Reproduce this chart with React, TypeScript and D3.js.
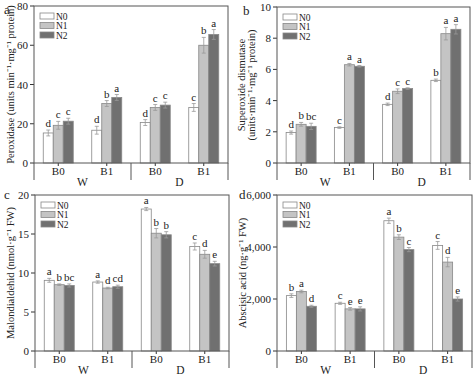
import React from "react";
import * as d3 from "d3";

const groups = ["W-B0", "W-B1", "D-B0", "D-B1"];
const groupLabels = ["B0", "B1", "B0", "B1"];
const waterLabels = ["W", "D"];
const series = ["N0", "N1", "N2"];

// Panel a: Peroxidase
const podN0 = [15.3, 16.7, 20.6, 28.3];
const podN1 = [19.2, 30.3, 28.3, 60.0];
const podN2 = [21.3, 33.4, 29.5, 65.5];
const podErrN0 = [1.5, 2.0, 1.5, 2.0];
const podErrN1 = [2.0, 1.5, 1.5, 4.0];
const podErrN2 = [1.5, 1.5, 1.5, 2.5];
const podLetN0 = ["d", "d", "d", "c"];
const podLetN1 = ["c", "b", "c", "b"];
const podLetN2 = ["c", "a", "c", "a"];

// Panel b: SOD
const sodN0 = [1.95, 2.27, 3.76, 5.3];
const sodN1 = [2.48, 6.3, 4.6, 8.29];
const sodN2 = [2.35, 6.2, 4.77, 8.57];
const sodErrN0 = [0.1, 0.05, 0.08, 0.08];
const sodErrN1 = [0.12, 0.08, 0.15, 0.4];
const sodErrN2 = [0.2, 0.05, 0.05, 0.3];
const sodLetN0 = ["d", "c", "d", "b"];
const sodLetN1 = ["b", "a", "c", "a"];
const sodLetN2 = ["bc", "a", "c", "a"];

// Panel c: MDA
const mdaN0 = [9.06, 8.84, 18.2, 13.4];
const mdaN1 = [8.5, 8.07, 15.1, 12.4];
const mdaN2 = [8.4, 8.24, 14.9, 11.2];
const mdaErrN0 = [0.25, 0.15, 0.2, 0.45];
const mdaErrN1 = [0.1, 0.1, 0.6, 0.5];
const mdaErrN2 = [0.2, 0.2, 0.4, 0.3];
const mdaLetN0 = ["a", "a", "a", "c"];
const mdaLetN1 = ["b", "d", "b", "d"];
const mdaLetN2 = ["bc", "cd", "b", "e"];

// Panel d: ABA
const abaN0 = [2130, 1835, 5010, 4060];
const abaN1 = [2290, 1620, 4380, 3420];
const abaN2 = [1720, 1620, 3900, 2000];
const abaErrN0 = [70, 40, 100, 150];
const abaErrN1 = [50, 50, 90, 180];
const abaErrN2 = [40, 80, 80, 80];
const abaLetN0 = ["b", "c", "a", "c"];
const abaLetN1 = ["a", "e", "b", "d"];
const abaLetN2 = ["d", "e", "c", "e"];

const colors = ["#ffffff", "#c4c4c4", "#707070"];
const FONT = "Liberation Serif, Times New Roman, serif";

type PanelProps = {
  letter: string;
  box: { left: number; right: number; top: number; bottom: number };
  yMax: number;
  ticks: number[];
  fmt: (v: number) => string;
  values: number[][];
  errs: number[][];
  lets: string[][];
  yLabel: string[];
  yLabelX: number;
  letterPos: [number, number];
};

function Panel(p: PanelProps) {
  const { left, right, top, bottom } = p.box;
  const x = d3.scaleBand<string>().domain(groups).range([left, right]).padding(0);
  const y = d3.scaleLinear().domain([0, p.yMax]).range([bottom, top]);
  const inner = d3.scaleBand<string>().domain(series).range([0, 30]).padding(0);
  const cy = (top + bottom) / 2;
  const mid = (left + right) / 2;
  return (
    <g fontFamily={FONT} fill="#222">
      <text x={p.letterPos[0]} y={p.letterPos[1]} fontSize={13}>{p.letter}</text>
      {p.yLabel.map((t, i) => (
        <text
          key={i}
          transform={`translate(${p.yLabelX + i * 10},${cy}) rotate(-90)`}
          textAnchor="middle"
          fontSize={10.5}
        >
          {t}
        </text>
      ))}
      {p.ticks.map((t) => (
        <g key={t}>
          <line x1={left - 4} x2={left} y1={y(t)} y2={y(t)} stroke="#333" />
          <text x={left - 6} y={y(t) + 4} textAnchor="end" fontSize={11}>{p.fmt(t)}</text>
        </g>
      ))}
      {groups.map((g, gi) => {
        const gx = (x(g) as number) + x.bandwidth() / 2 - 15;
        return (
          <g key={g}>
            {series.map((s, si) => {
              const v = p.values[si][gi];
              const e = p.errs[si][gi];
              const bx = gx + (inner(s) as number);
              const bw = inner.bandwidth();
              const cx = bx + bw / 2;
              return (
                <g key={s}>
                  <rect x={bx} y={y(v)} width={bw} height={bottom - y(v)} fill={colors[si]} stroke="#888" strokeWidth={0.8} />
                  <line x1={cx} x2={cx} y1={y(v - e)} y2={y(v + e)} stroke="#999" strokeWidth={0.8} />
                  <line x1={cx - 2} x2={cx + 2} y1={y(v + e)} y2={y(v + e)} stroke="#999" strokeWidth={0.8} />
                  <line x1={cx - 2} x2={cx + 2} y1={y(v - e)} y2={y(v - e)} stroke="#999" strokeWidth={0.8} />
                  <text x={cx} y={y(v + e) - 3} textAnchor="middle" fontSize={11}>{p.lets[si][gi]}</text>
                </g>
              );
            })}
            <line x1={gx + 15} x2={gx + 15} y1={bottom} y2={bottom + 3} stroke="#333" />
            <text x={gx + 15} y={bottom + 12} textAnchor="middle" fontSize={11}>{groupLabels[gi]}</text>
          </g>
        );
      })}
      <rect x={left} y={top} width={right - left} height={bottom - top} fill="none" stroke="#555" strokeWidth={1} />
      {[left, mid, right].map((lx, i) => (
        <line key={i} x1={lx} x2={lx} y1={bottom} y2={bottom + 17} stroke="#555" />
      ))}
      {waterLabels.map((w, i) => (
        <text key={w} x={(i === 0 ? (left + mid) : (mid + right)) / 2} y={bottom + 23} textAnchor="middle" fontSize={11.5}>{w}</text>
      ))}
      {series.map((s, si) => (
        <g key={s}>
          <rect x={left + 6} y={top + 7 + si * 9.5} width={14} height={6} fill={colors[si]} stroke="#888" strokeWidth={0.8} />
          <text x={left + 22} y={top + 13.5 + si * 9.5} fontSize={9.5}>{s}</text>
        </g>
      ))}
    </g>
  );
}

export default function App() {
  const intFmt = (v: number) => `${v}`;
  const commaFmt = d3.format(",");
  return (
    <svg width={474} height={377} style={{ position: "absolute", left: 0, top: 0, background: "#fff" }}>
      <Panel
        letter="a"
        box={{ left: 34, right: 228, top: 6, bottom: 163 }}
        yMax={80}
        ticks={[0, 20, 40, 60, 80]}
        fmt={intFmt}
        values={[podN0, podN1, podN2]}
        errs={[podErrN0, podErrN1, podErrN2]}
        lets={[podLetN0, podLetN1, podLetN2]}
        yLabel={["Peroxidase (units min\u207B\u00B9\u00B7mg\u207B\u00B9 protein)"]}
        yLabelX={14}
        letterPos={[4, 14]}
      />
      <Panel
        letter="b"
        box={{ left: 277, right: 470, top: 7, bottom: 163 }}
        yMax={10}
        ticks={[0, 2, 4, 6, 8, 10]}
        fmt={intFmt}
        values={[sodN0, sodN1, sodN2]}
        errs={[sodErrN0, sodErrN1, sodErrN2]}
        lets={[sodLetN0, sodLetN1, sodLetN2]}
        yLabel={["Superoxide dismutase", "(units\u00B7min\u207B\u00B9\u00B7mg\u207B\u00B9 protein)"]}
        yLabelX={245}
        letterPos={[243, 15]}
      />
      <Panel
        letter="c"
        box={{ left: 35, right: 229, top: 195, bottom: 351 }}
        yMax={20}
        ticks={[0, 5, 10, 15, 20]}
        fmt={intFmt}
        values={[mdaN0, mdaN1, mdaN2]}
        errs={[mdaErrN0, mdaErrN1, mdaErrN2]}
        lets={[mdaLetN0, mdaLetN1, mdaLetN2]}
        yLabel={["Malondialdehid (nmol\u00B7g\u207B\u00B9 FW)"]}
        yLabelX={14}
        letterPos={[4, 199]}
      />
      <Panel
        letter="d"
        box={{ left: 277, right: 472, top: 195, bottom: 351 }}
        yMax={6000}
        ticks={[0, 2000, 4000, 6000]}
        fmt={commaFmt}
        values={[abaN0, abaN1, abaN2]}
        errs={[abaErrN0, abaErrN1, abaErrN2]}
        lets={[abaLetN0, abaLetN1, abaLetN2]}
        yLabel={["Abscisic acid (ng\u00B7g\u207B\u00B9 FW)"]}
        yLabelX={246}
        letterPos={[239, 199]}
      />
    </svg>
  );
}
